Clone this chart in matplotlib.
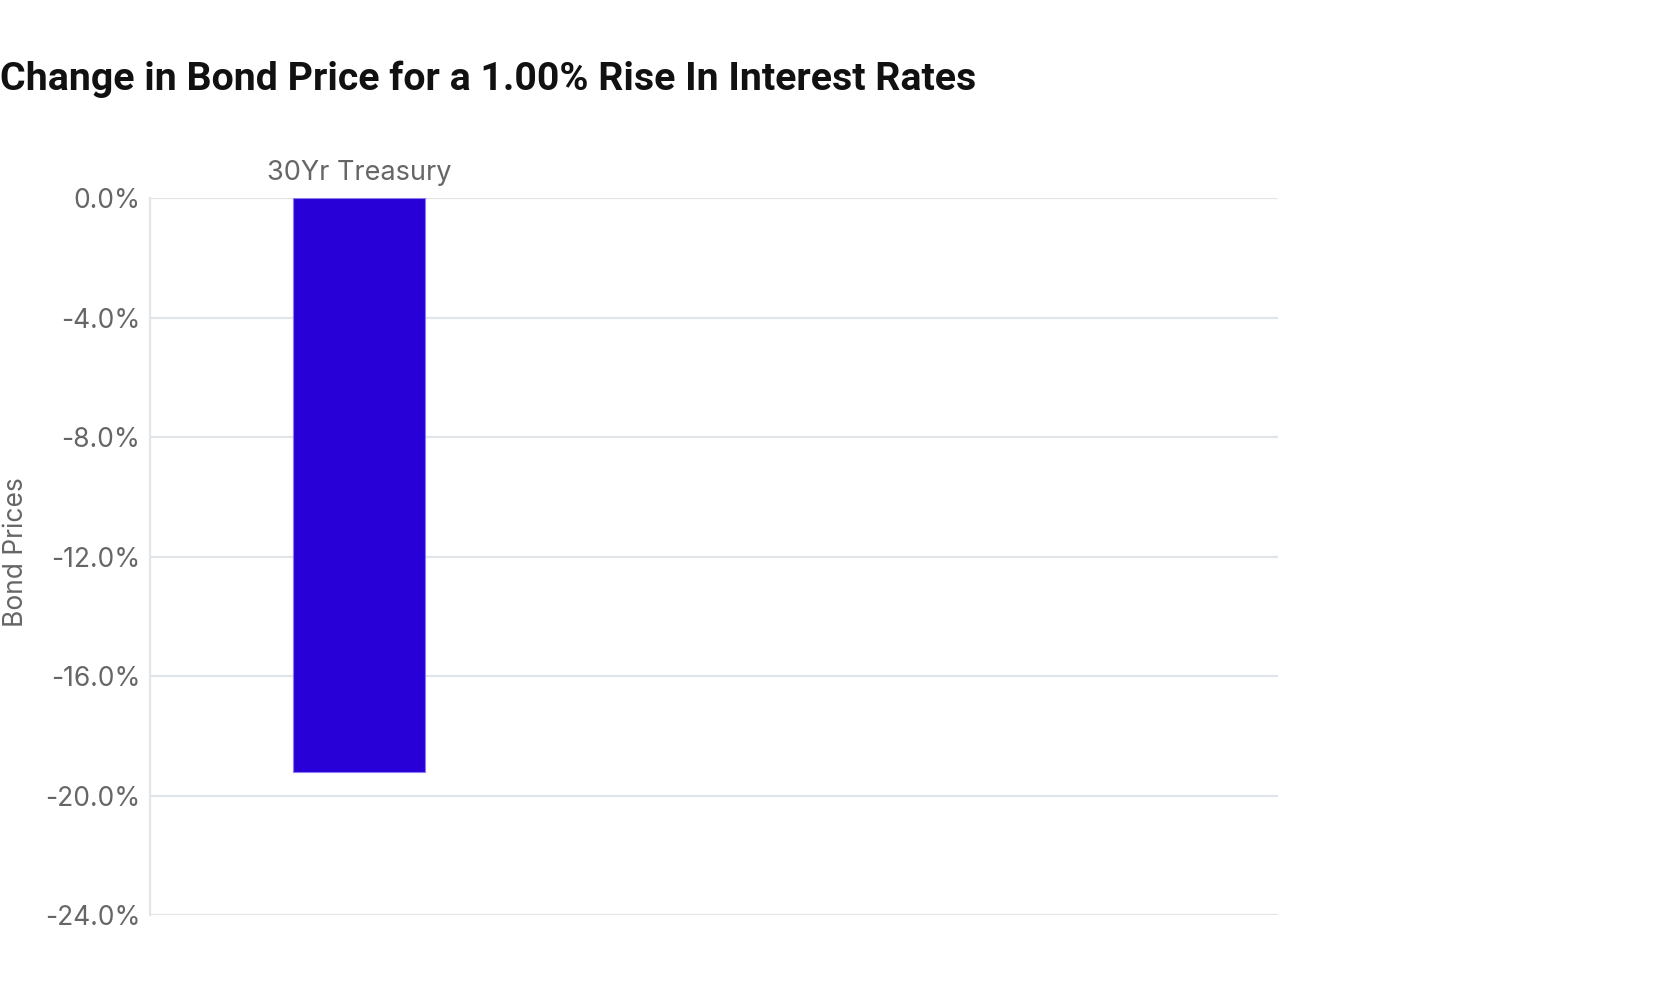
import matplotlib
matplotlib.use("Agg")
import matplotlib.pyplot as plt
from matplotlib.ticker import FuncFormatter

# data
categories = ["30Yr Treasury"]
price_change = [-19.2]
y_ticks = [0, -4, -8, -12, -16, -20, -24]

BAR_COLOR = "#2800d7"
GRID_COLOR = "#e1e4e9"
TEXT_GRAY = "#666666"

plt.rcParams['font.family'] = ['Inter', 'DejaVu Sans']

fig = plt.figure(figsize=(16.8, 9.96), dpi=100)
ax = fig.add_axes([0.0893, 0.0813, 0.6714, 0.7199])

x = list(range(len(categories)))
ax.bar(x, price_change, width=1.0, color=BAR_COLOR, edgecolor="#8a7cf0",
       linewidth=0.8, zorder=3)

ax.set_ylim(-24, 0)
ax.set_xlim(-1.583, 6.96)
ax.set_yticks(y_ticks)
ax.yaxis.set_major_formatter(FuncFormatter(lambda v, p: f"{v:.1f}%"))
ax.grid(axis="y", color=GRID_COLOR, linewidth=1.6, zorder=0)
ax.tick_params(axis="y", length=0, pad=7, labelsize=19, labelcolor=TEXT_GRAY)

ax.xaxis.tick_top()
ax.set_xticks(x)
ax.set_xticklabels(categories)
ax.tick_params(axis="x", length=0, pad=9, labelsize=19.5, labelcolor=TEXT_GRAY)

for s in ["top", "right", "bottom"]:
    ax.spines[s].set_visible(False)
ax.spines["left"].set_color(GRID_COLOR)
ax.spines["left"].set_linewidth(1.6)

fig.text(0.0095, 1 - 552 / 996, "Bond Prices", rotation=90,
         ha="center", va="center", fontsize=19, color=TEXT_GRAY)

fig.text(0.0, 1 - 79 / 996, "Change in Bond Price for a 1.00% Rise In Interest Rates",
         ha="left", va="center", fontsize=28.3, fontweight="bold", color="#111111",
         family=["Roboto", "DejaVu Sans"])

fig.savefig("out.png", dpi=100, facecolor="white")
